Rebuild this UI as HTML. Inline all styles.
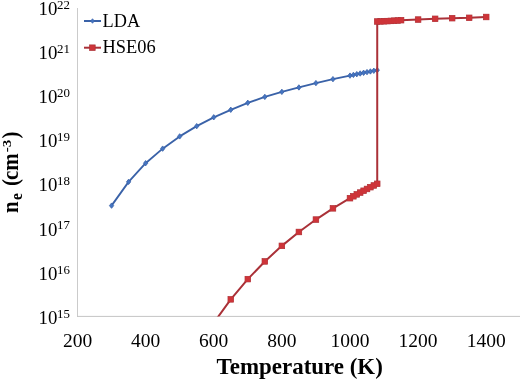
<!DOCTYPE html><html><head><meta charset="utf-8"><title>chart</title><style>html,body{margin:0;padding:0;background:#fff}svg{display:block}text{font-family:"Liberation Serif",serif;fill:#000}</style></head><body>
<svg width="520" height="380" viewBox="0 0 520 380">
<rect width="520" height="380" fill="#fff"/>
<defs><clipPath id="c"><rect x="0" y="0" width="520" height="316.5"/></clipPath></defs>
<line x1="77.5" y1="8" x2="77.5" y2="316.9" stroke="#cbcbcb" stroke-width="1"/>
<line x1="77.0" y1="316.4" x2="520" y2="316.4" stroke="#c4c4c4" stroke-width="1"/>
<text transform="translate(57.3,324) scale(0.955,1)" text-anchor="end" font-size="19.7">10</text>
<text x="69.9" y="318.4" text-anchor="end" font-size="12.9">15</text>
<text transform="translate(57.3,280) scale(0.955,1)" text-anchor="end" font-size="19.7">10</text>
<text x="69.9" y="274" text-anchor="end" font-size="12.9">16</text>
<text transform="translate(57.3,236) scale(0.955,1)" text-anchor="end" font-size="19.7">10</text>
<text x="69.9" y="229" text-anchor="end" font-size="12.9">17</text>
<text transform="translate(57.3,191) scale(0.955,1)" text-anchor="end" font-size="19.7">10</text>
<text x="69.9" y="185" text-anchor="end" font-size="12.9">18</text>
<text transform="translate(57.3,147) scale(0.955,1)" text-anchor="end" font-size="19.7">10</text>
<text x="69.9" y="141" text-anchor="end" font-size="12.9">19</text>
<text transform="translate(57.3,103) scale(0.955,1)" text-anchor="end" font-size="19.7">10</text>
<text x="69.9" y="97" text-anchor="end" font-size="12.9">20</text>
<text transform="translate(57.3,59) scale(0.955,1)" text-anchor="end" font-size="19.7">10</text>
<text x="69.9" y="53" text-anchor="end" font-size="12.9">21</text>
<text transform="translate(57.3,14.6) scale(0.955,1)" text-anchor="end" font-size="19.7">10</text>
<text x="69.9" y="8.6" text-anchor="end" font-size="12.9">22</text>
<text x="77.50" y="346.7" text-anchor="middle" font-size="19.5">200</text>
<text x="145.62" y="346.7" text-anchor="middle" font-size="19.5">400</text>
<text x="213.74" y="346.7" text-anchor="middle" font-size="19.5">600</text>
<text x="281.86" y="346.7" text-anchor="middle" font-size="19.5">800</text>
<text x="349.98" y="346.7" text-anchor="middle" font-size="19.5">1000</text>
<text x="418.10" y="346.7" text-anchor="middle" font-size="19.5">1200</text>
<text x="486.22" y="346.7" text-anchor="middle" font-size="19.5">1400</text>
<text x="299.7" y="373.6" text-anchor="middle" font-size="22.95" font-weight="bold">Temperature (K)</text>
<text transform="translate(17.6,213) rotate(-90) scale(0.88,1)" font-size="23.8" font-weight="bold"><tspan x="0" y="0">n</tspan><tspan x="14.89" y="4.8" font-size="17.5">e</tspan><tspan x="30.80" y="0">(</tspan><tspan x="37.50" y="0">cm</tspan><tspan x="84.55" y="0">)</tspan></text><text transform="translate(10.5,152.2) rotate(-90) scale(1.14,1)" font-size="13.3" font-weight="bold">-3</text>
<polyline points="111.56,205.63 128.59,181.86 145.62,163.21 162.65,148.64 179.68,136.38 196.71,126.16 213.74,117.31 230.77,109.80 247.80,102.81 264.83,96.91 281.86,91.87 298.89,87.44 315.92,83.10 332.95,79.17 349.98,75.61 353.39,74.89 356.79,74.18 360.20,73.48 363.60,72.80 367.01,72.12 370.42,71.45 373.82,70.79 377.23,70.14" fill="none" stroke="#3a62a8" stroke-width="1.85" stroke-linejoin="round"/>
<path d="M111.56 202.93L113.71 205.63L111.56 208.33L109.41 205.63Z" fill="#4575c2" stroke="#3a62a8" stroke-width="0.8" stroke-linejoin="round"/>
<path d="M128.59 179.16L130.74 181.86L128.59 184.56L126.44 181.86Z" fill="#4575c2" stroke="#3a62a8" stroke-width="0.8" stroke-linejoin="round"/>
<path d="M145.62 160.51L147.77 163.21L145.62 165.91L143.47 163.21Z" fill="#4575c2" stroke="#3a62a8" stroke-width="0.8" stroke-linejoin="round"/>
<path d="M162.65 145.94L164.80 148.64L162.65 151.34L160.50 148.64Z" fill="#4575c2" stroke="#3a62a8" stroke-width="0.8" stroke-linejoin="round"/>
<path d="M179.68 133.68L181.83 136.38L179.68 139.08L177.53 136.38Z" fill="#4575c2" stroke="#3a62a8" stroke-width="0.8" stroke-linejoin="round"/>
<path d="M196.71 123.46L198.86 126.16L196.71 128.86L194.56 126.16Z" fill="#4575c2" stroke="#3a62a8" stroke-width="0.8" stroke-linejoin="round"/>
<path d="M213.74 114.61L215.89 117.31L213.74 120.01L211.59 117.31Z" fill="#4575c2" stroke="#3a62a8" stroke-width="0.8" stroke-linejoin="round"/>
<path d="M230.77 107.10L232.92 109.80L230.77 112.50L228.62 109.80Z" fill="#4575c2" stroke="#3a62a8" stroke-width="0.8" stroke-linejoin="round"/>
<path d="M247.80 100.11L249.95 102.81L247.80 105.51L245.65 102.81Z" fill="#4575c2" stroke="#3a62a8" stroke-width="0.8" stroke-linejoin="round"/>
<path d="M264.83 94.21L266.98 96.91L264.83 99.61L262.68 96.91Z" fill="#4575c2" stroke="#3a62a8" stroke-width="0.8" stroke-linejoin="round"/>
<path d="M281.86 89.17L284.01 91.87L281.86 94.57L279.71 91.87Z" fill="#4575c2" stroke="#3a62a8" stroke-width="0.8" stroke-linejoin="round"/>
<path d="M298.89 84.74L301.04 87.44L298.89 90.14L296.74 87.44Z" fill="#4575c2" stroke="#3a62a8" stroke-width="0.8" stroke-linejoin="round"/>
<path d="M315.92 80.40L318.07 83.10L315.92 85.80L313.77 83.10Z" fill="#4575c2" stroke="#3a62a8" stroke-width="0.8" stroke-linejoin="round"/>
<path d="M332.95 76.47L335.10 79.17L332.95 81.87L330.80 79.17Z" fill="#4575c2" stroke="#3a62a8" stroke-width="0.8" stroke-linejoin="round"/>
<path d="M349.98 72.91L352.13 75.61L349.98 78.31L347.83 75.61Z" fill="#4575c2" stroke="#3a62a8" stroke-width="0.8" stroke-linejoin="round"/>
<path d="M353.39 72.19L355.54 74.89L353.39 77.59L351.24 74.89Z" fill="#4575c2" stroke="#3a62a8" stroke-width="0.8" stroke-linejoin="round"/>
<path d="M356.79 71.48L358.94 74.18L356.79 76.88L354.64 74.18Z" fill="#4575c2" stroke="#3a62a8" stroke-width="0.8" stroke-linejoin="round"/>
<path d="M360.20 70.78L362.35 73.48L360.20 76.18L358.05 73.48Z" fill="#4575c2" stroke="#3a62a8" stroke-width="0.8" stroke-linejoin="round"/>
<path d="M363.60 70.10L365.75 72.80L363.60 75.50L361.45 72.80Z" fill="#4575c2" stroke="#3a62a8" stroke-width="0.8" stroke-linejoin="round"/>
<path d="M367.01 69.42L369.16 72.12L367.01 74.82L364.86 72.12Z" fill="#4575c2" stroke="#3a62a8" stroke-width="0.8" stroke-linejoin="round"/>
<path d="M370.42 68.75L372.57 71.45L370.42 74.15L368.27 71.45Z" fill="#4575c2" stroke="#3a62a8" stroke-width="0.8" stroke-linejoin="round"/>
<path d="M373.82 68.09L375.97 70.79L373.82 73.49L371.67 70.79Z" fill="#4575c2" stroke="#3a62a8" stroke-width="0.8" stroke-linejoin="round"/>
<path d="M377.23 67.44L379.38 70.14L377.23 72.84L375.08 70.14Z" fill="#4575c2" stroke="#3a62a8" stroke-width="0.8" stroke-linejoin="round"/>
<g clip-path="url(#c)"><polyline points="213.74,322.82 230.77,299.38 247.80,279.13 264.83,261.44 281.86,245.85 298.89,231.98 315.92,219.56 332.95,208.36 349.98,198.21 353.39,196.29 356.79,194.41 360.20,192.56 363.60,190.74 367.01,188.96 370.42,187.20 373.82,185.48 377.23,183.79 377.23,21.50 380.63,21.40 384.04,21.25 387.45,21.10 390.85,20.90 394.26,20.70 397.66,20.50 401.07,20.20 418.10,19.55 435.13,18.80 452.16,18.20 469.19,17.80 486.22,17.00" fill="none" stroke="#aa3138" stroke-width="2.0" stroke-linejoin="round"/></g>
<rect x="227.97" y="296.58" width="5.6" height="5.6" fill="#ce3439" stroke="#ab3338" stroke-width="0.7"/>
<rect x="245.00" y="276.33" width="5.6" height="5.6" fill="#ce3439" stroke="#ab3338" stroke-width="0.7"/>
<rect x="262.03" y="258.64" width="5.6" height="5.6" fill="#ce3439" stroke="#ab3338" stroke-width="0.7"/>
<rect x="279.06" y="243.05" width="5.6" height="5.6" fill="#ce3439" stroke="#ab3338" stroke-width="0.7"/>
<rect x="296.09" y="229.18" width="5.6" height="5.6" fill="#ce3439" stroke="#ab3338" stroke-width="0.7"/>
<rect x="313.12" y="216.76" width="5.6" height="5.6" fill="#ce3439" stroke="#ab3338" stroke-width="0.7"/>
<rect x="330.15" y="205.56" width="5.6" height="5.6" fill="#ce3439" stroke="#ab3338" stroke-width="0.7"/>
<rect x="347.18" y="195.41" width="5.6" height="5.6" fill="#ce3439" stroke="#ab3338" stroke-width="0.7"/>
<rect x="350.59" y="193.49" width="5.6" height="5.6" fill="#ce3439" stroke="#ab3338" stroke-width="0.7"/>
<rect x="353.99" y="191.61" width="5.6" height="5.6" fill="#ce3439" stroke="#ab3338" stroke-width="0.7"/>
<rect x="357.40" y="189.76" width="5.6" height="5.6" fill="#ce3439" stroke="#ab3338" stroke-width="0.7"/>
<rect x="360.80" y="187.94" width="5.6" height="5.6" fill="#ce3439" stroke="#ab3338" stroke-width="0.7"/>
<rect x="364.21" y="186.16" width="5.6" height="5.6" fill="#ce3439" stroke="#ab3338" stroke-width="0.7"/>
<rect x="367.62" y="184.40" width="5.6" height="5.6" fill="#ce3439" stroke="#ab3338" stroke-width="0.7"/>
<rect x="371.02" y="182.68" width="5.6" height="5.6" fill="#ce3439" stroke="#ab3338" stroke-width="0.7"/>
<rect x="374.43" y="180.99" width="5.6" height="5.6" fill="#ce3439" stroke="#ab3338" stroke-width="0.7"/>
<rect x="374.43" y="18.70" width="5.6" height="5.6" fill="#ce3439" stroke="#ab3338" stroke-width="0.7"/>
<rect x="377.83" y="18.60" width="5.6" height="5.6" fill="#ce3439" stroke="#ab3338" stroke-width="0.7"/>
<rect x="381.24" y="18.45" width="5.6" height="5.6" fill="#ce3439" stroke="#ab3338" stroke-width="0.7"/>
<rect x="384.65" y="18.30" width="5.6" height="5.6" fill="#ce3439" stroke="#ab3338" stroke-width="0.7"/>
<rect x="388.05" y="18.10" width="5.6" height="5.6" fill="#ce3439" stroke="#ab3338" stroke-width="0.7"/>
<rect x="391.46" y="17.90" width="5.6" height="5.6" fill="#ce3439" stroke="#ab3338" stroke-width="0.7"/>
<rect x="394.86" y="17.70" width="5.6" height="5.6" fill="#ce3439" stroke="#ab3338" stroke-width="0.7"/>
<rect x="398.27" y="17.40" width="5.6" height="5.6" fill="#ce3439" stroke="#ab3338" stroke-width="0.7"/>
<rect x="415.30" y="16.75" width="5.6" height="5.6" fill="#ce3439" stroke="#ab3338" stroke-width="0.7"/>
<rect x="432.33" y="16.00" width="5.6" height="5.6" fill="#ce3439" stroke="#ab3338" stroke-width="0.7"/>
<rect x="449.36" y="15.40" width="5.6" height="5.6" fill="#ce3439" stroke="#ab3338" stroke-width="0.7"/>
<rect x="466.39" y="15.00" width="5.6" height="5.6" fill="#ce3439" stroke="#ab3338" stroke-width="0.7"/>
<rect x="483.42" y="14.20" width="5.6" height="5.6" fill="#ce3439" stroke="#ab3338" stroke-width="0.7"/>
<rect x="228.27" y="296.88" width="5" height="5" fill="#ce3439"/>
<rect x="245.30" y="276.63" width="5" height="5" fill="#ce3439"/>
<rect x="262.33" y="258.94" width="5" height="5" fill="#ce3439"/>
<rect x="279.36" y="243.35" width="5" height="5" fill="#ce3439"/>
<rect x="296.39" y="229.48" width="5" height="5" fill="#ce3439"/>
<rect x="313.42" y="217.06" width="5" height="5" fill="#ce3439"/>
<rect x="330.45" y="205.86" width="5" height="5" fill="#ce3439"/>
<rect x="347.48" y="195.71" width="5" height="5" fill="#ce3439"/>
<rect x="350.89" y="193.79" width="5" height="5" fill="#ce3439"/>
<rect x="354.29" y="191.91" width="5" height="5" fill="#ce3439"/>
<rect x="357.70" y="190.06" width="5" height="5" fill="#ce3439"/>
<rect x="361.10" y="188.24" width="5" height="5" fill="#ce3439"/>
<rect x="364.51" y="186.46" width="5" height="5" fill="#ce3439"/>
<rect x="367.92" y="184.70" width="5" height="5" fill="#ce3439"/>
<rect x="371.32" y="182.98" width="5" height="5" fill="#ce3439"/>
<rect x="374.73" y="181.29" width="5" height="5" fill="#ce3439"/>
<rect x="374.73" y="19.00" width="5" height="5" fill="#ce3439"/>
<rect x="378.13" y="18.90" width="5" height="5" fill="#ce3439"/>
<rect x="381.54" y="18.75" width="5" height="5" fill="#ce3439"/>
<rect x="384.95" y="18.60" width="5" height="5" fill="#ce3439"/>
<rect x="388.35" y="18.40" width="5" height="5" fill="#ce3439"/>
<rect x="391.76" y="18.20" width="5" height="5" fill="#ce3439"/>
<rect x="395.16" y="18.00" width="5" height="5" fill="#ce3439"/>
<rect x="398.57" y="17.70" width="5" height="5" fill="#ce3439"/>
<rect x="415.60" y="17.05" width="5" height="5" fill="#ce3439"/>
<rect x="432.63" y="16.30" width="5" height="5" fill="#ce3439"/>
<rect x="449.66" y="15.70" width="5" height="5" fill="#ce3439"/>
<rect x="466.69" y="15.30" width="5" height="5" fill="#ce3439"/>
<rect x="483.72" y="14.50" width="5" height="5" fill="#ce3439"/>
<line x1="84" y1="21" x2="101" y2="21" stroke="#3a62a8" stroke-width="2.0"/>
<path d="M92.5 18.7L94.5 21L92.5 23.3L90.5 21Z" fill="#4575c2" stroke="#3a62a8" stroke-width="0.6"/>
<text x="102.6" y="26.7" font-size="18.3">LDA</text>
<line x1="84" y1="47.7" x2="101" y2="47.7" stroke="#aa3138" stroke-width="2.0"/>
<rect x="89.6" y="44.9" width="5.6" height="5.6" fill="#ce3439" stroke="#ab3338" stroke-width="0.7"/>
<text x="102.6" y="53.2" font-size="18.4">HSE06</text>
</svg></body></html>
